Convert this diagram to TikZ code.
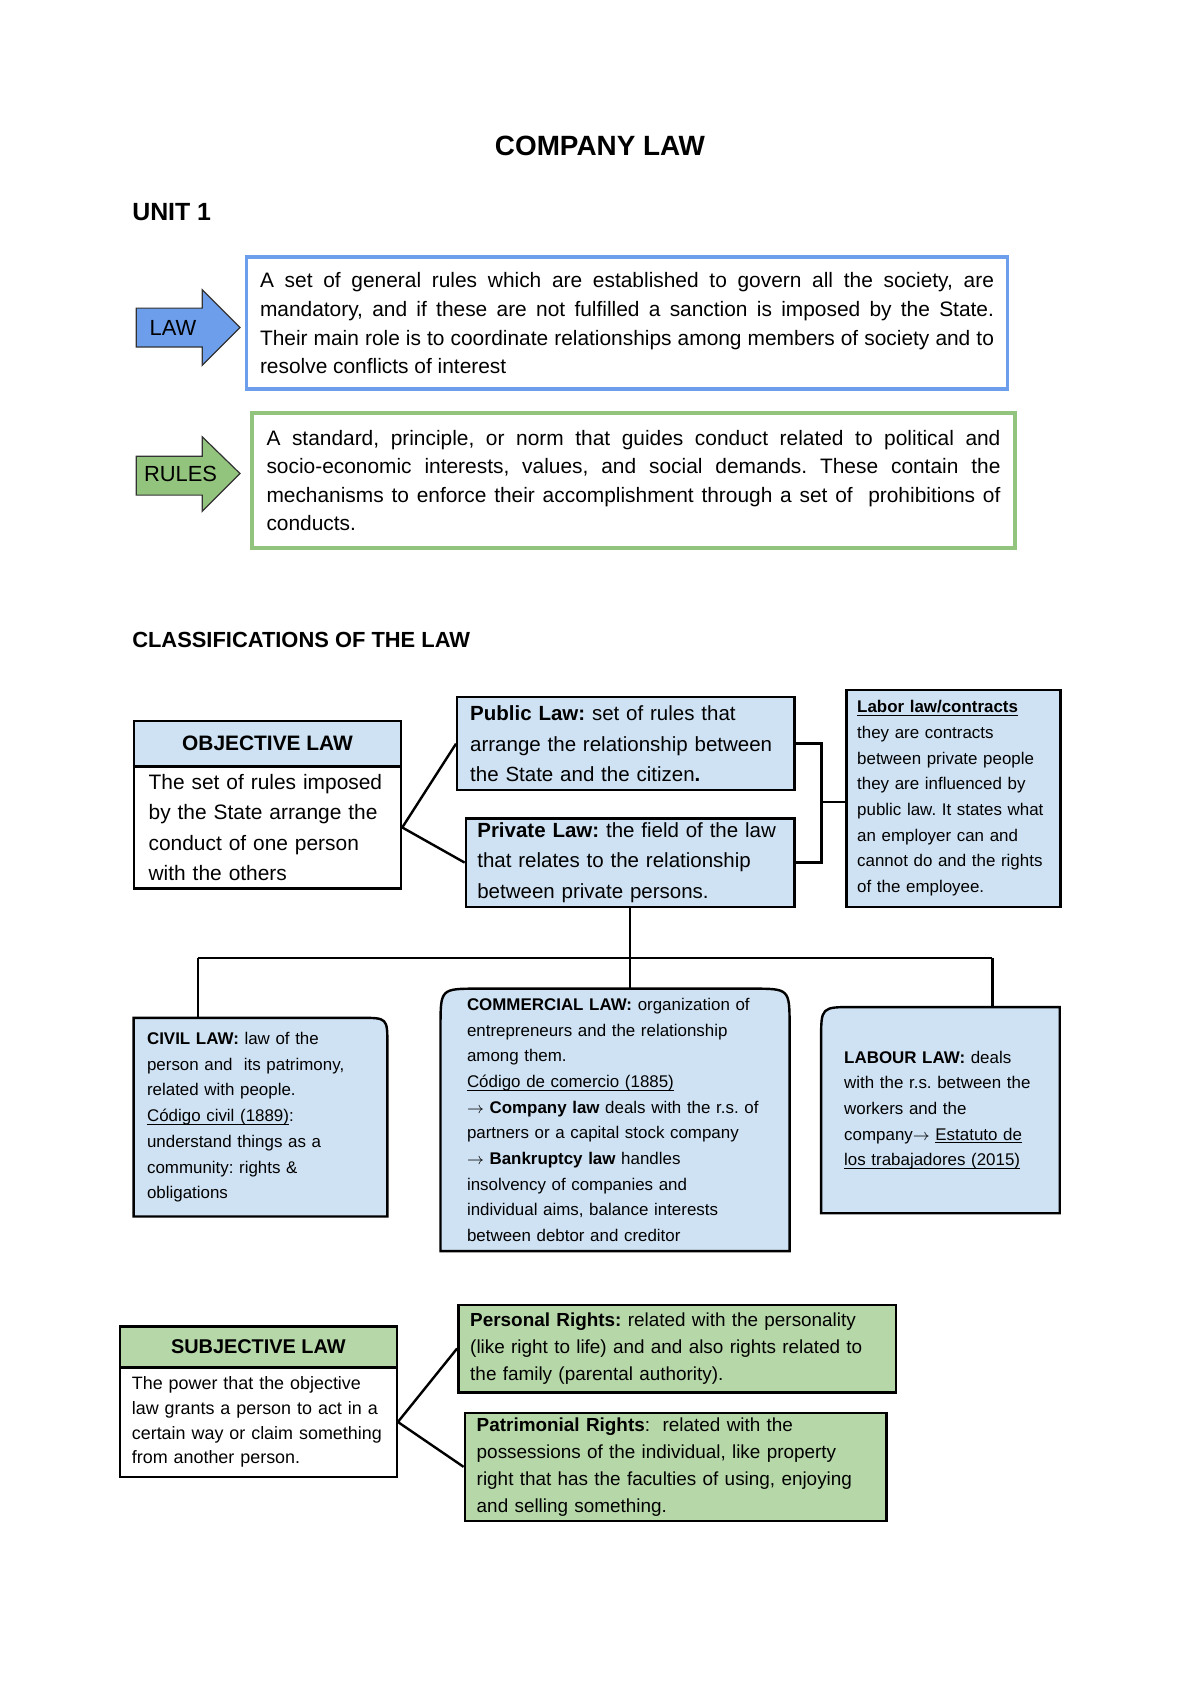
\documentclass[tikz,border=0pt]{standalone}
\usepackage{fontspec}
\setmainfont{Liberation Sans}
\usepackage{tikz}
\usetikzlibrary{
    positioning,
    backgrounds,
    calc
}
\definecolor{lawblue}{HTML}{6D9EEB}
\definecolor{rulegreen}{HTML}{93C47D}
\definecolor{paleblue}{HTML}{CFE2F3}
\definecolor{palegreen}{HTML}{B6D7A8}
\newcommand{\uln}[1]{\leavevmode\setbox0\hbox{#1}\rlap{\rule[-1.5pt]{\wd0}{0.45pt}}\box0}
\newcommand{\toarr}{$\rightarrow$}

\begin{document}
\frenchspacing
\begin{tikzpicture}[x=0.019091cm, y=-0.019091cm, scale=0.991,
    every node/.append style={transform shape},
    defbox/.style={draw=#1, line width=1.8pt, inner ysep=0pt, align=justify,
        text width=12.96cm, font=\fontsize{10.5}{14.4}\selectfont},
    tagarrow/.style={fill=#1, draw=black!80, line width=0.6pt},
    hdr/.style={draw, line width=1.2pt, fill=#1, inner sep=0pt},
    cell/.style={draw, line width=1.2pt, inner ysep=0pt, align=left},
    lowbox/.style={inner ysep=0pt, align=left, font=\fontsize{8.5}{12.9}\selectfont},
    lowline/.style={fill=paleblue, draw, line width=1.2pt},
    conn/.style={line width=1.2pt}
]
\useasboundingbox (0,0) rectangle (1110,1567);

\node[font=\bfseries\fontsize{14}{16}\selectfont] (title) at (555,135) {COMPANY LAW};
\node[anchor=west, inner sep=0pt, font=\bfseries\fontsize{12.5}{15}\selectfont] (unit) at (122,196) {UNIT 1};

% law and rules
\draw[tagarrow=lawblue] (126,285) -- (187,285) -- (187,268) -- (222,303) -- (187,338) -- (187,321) -- (126,321) -- cycle;
\node[font=\fontsize{11}{13}\selectfont] (lawtag) at (160,303) {LAW};
\node[defbox=lawblue, minimum height=2.33cm, inner xsep=0.24cm] (lawdef) at (580,299)
    {A set of general rules which are established to govern all the society, are\linebreak
     mandatory, and if these are not fulfilled a sanction is imposed by the State.\linebreak
     Their main role is to coordinate relationships among members of society and to\linebreak
     resolve conflicts of interest\par\vspace{8pt}};

\draw[tagarrow=rulegreen] (126,422) -- (187,422) -- (187,404) -- (222,438) -- (187,473) -- (187,458) -- (126,458) -- cycle;
\node[font=\fontsize{11}{13}\selectfont] (ruletag) at (167,438) {RULES};
\node[defbox=rulegreen, minimum height=2.39cm, inner xsep=0.26cm] (ruledef) at (586,444.5)
    {A standard, principle, or norm that guides conduct related to political and\linebreak
     socio-economic interests, values, and social demands. These contain the\linebreak
     mechanisms to enforce their accomplishment through a set of\ \ prohibitions of\linebreak
     conducts.\par\vspace{5pt}};

\node[anchor=west, inner sep=0pt, font=\bfseries\fontsize{11}{13}\selectfont] (classif) at (122,592) {CLASSIFICATIONS OF THE LAW};

% objective law
\node[hdr=paleblue, minimum width=4.716cm, minimum height=0.80cm,
    font=\bfseries\fontsize{10.5}{13}\selectfont] (objhead) at (247.5,688) {OBJECTIVE LAW};
\node[cell, text width=4.2cm, inner xsep=0.258cm, minimum height=2.157cm,
    font=\fontsize{10.5}{15.2}\selectfont] (objbody) at (247.5,765.5)
    {The set of rules imposed\\ by the State arrange the\\ conduct of one person\\ with the others};

\node[cell, fill=paleblue, text width=5.5cm, inner xsep=0.228cm, minimum height=1.642cm,
    font=\fontsize{10.3}{15.2}\selectfont] (public) at (579,688)
    {\textbf{Public Law:} set of rules that\\ arrange the relationship between\\ the State and the citizen\textbf{.}};
\node[cell, fill=paleblue, text width=5.4cm, inner xsep=0.202cm, minimum height=1.565cm,
    font=\fontsize{10.3}{15.2}\selectfont] (private) at (583,798)
    {\textbf{Private Law:} the field of the law\\ that relates to the relationship\\ between private persons.};
\node[cell, fill=paleblue, text width=3.4cm, inner xsep=0.19cm, minimum height=3.837cm,
    font=\fontsize{8.5}{12.9}\selectfont] (labor) at (882,738.5)
    {\textbf{\uln{Labor law/contracts}}\\ they are contracts\\ between private people\\
     they are influenced by\\ public law. It states what\\ an employer can and\\
     cannot do and the rights\\ of the employee.};

\draw[conn] (public.west) -- (objbody.east) -- (private.west);
\coordinate (brk) at (760,742);
\draw[conn] (public.east) -| (brk) |- (private.east);
\draw[conn] (brk) -- (brk -| labor.west);

% branches of private law
\node[lowbox, text width=4.007cm, inner xsep=0.23cm, minimum width=4.467cm, minimum height=3.494cm] (civil) at (241,1033.5)
    {\textbf{CIVIL LAW:} law of the\\ person and\ \ its patrimony,\\ related with people.\\
     \uln{Código civil (1889)}:\\ understand things as a\\ community: rights \&\\ obligations};
\node[lowbox, text width=5.23cm, inner xsep=0.46cm, minimum width=6.147cm, minimum height=4.62cm] (commercial) at (569,1036)
    {\textbf{COMMERCIAL LAW:} organization of\\ entrepreneurs and the relationship\\ among them.\\
     \uln{Código de comercio (1885)}\\ \toarr\ \textbf{Company law} deals with the r.s. of\\
     partners or a capital stock company\\ \toarr\ \textbf{Bankruptcy law} handles\\
     insolvency of companies and\\ individual aims, balance interests\\ between debtor and creditor\par\vspace{-6pt}};
\node[lowbox, text width=3.4cm, inner xsep=0.4cm, minimum width=4.2cm, minimum height=3.627cm] (labour) at (870,1027)
    {\textbf{LABOUR LAW:} deals\\ with the r.s. between the\\ workers and the\\
     company\toarr\ \uln{Estatuto de}\\ \uln{los trabajadores (2015)}};

\begin{scope}[on background layer]
    \draw[lowline] (civil.south west) -- (civil.north west) -- ($(civil.north east)+(-25,0)$)
        .. controls (civil.north east) .. ($(civil.north east)+(0,25)$) -- (civil.south east) -- cycle;
    \draw[lowline] (commercial.south west) -- ($(commercial.north west)+(0,35)$)
        .. controls (commercial.north west) .. ($(commercial.north west)+(35,0)$)
        -- ($(commercial.north east)+(-35,0)$)
        .. controls (commercial.north east) .. ($(commercial.north east)+(0,35)$)
        -- (commercial.south east) -- cycle;
    \draw[lowline] (labour.south west) -- ($(labour.north west)+(0,30)$)
        .. controls (labour.north west) .. ($(labour.north west)+(30,0)$)
        -- (labour.north east) -- (labour.south east) -- cycle;
\end{scope}

\coordinate (busl) at (183,886);
\coordinate (busr) at (918,886);
\draw[conn] (busl) -- (busr);
\draw[conn] (private.south) -- (private.south |- commercial.north);
\draw[conn] (busl) -- (busl |- civil.north);
\draw[conn] (busr) -- (busr |- labour.north);

% subjective law
\node[hdr=palegreen, minimum width=4.887cm, minimum height=0.725cm,
    font=\bfseries\fontsize{10}{12}\selectfont] (subjhead) at (239,1246) {SUBJECTIVE LAW};
\node[cell, text width=4.467cm, inner xsep=0.21cm, minimum height=1.928cm,
    font=\fontsize{9}{12.45}\selectfont] (subjbody) at (239,1315.5)
    {The power that the objective\\ law grants a person to act in a\\ certain way or claim something\\ from another person.};

\node[cell, fill=palegreen, text width=7.312cm, inner xsep=0.21cm, minimum height=1.546cm,
    font=\fontsize{9.5}{13.5}\selectfont] (personal) at (626.5,1247.5)
    {\textbf{Personal Rights:} related with the personality\\ (like right to life) and and also rights related to\\ the family (parental authority).};
\node[cell, fill=palegreen, text width=7.025cm, inner xsep=0.21cm, minimum height=1.909cm,
    font=\fontsize{9.5}{13.5}\selectfont] (patrimonial) at (625,1357)
    {\textbf{Patrimonial Rights}:\ \ related with the\\ possessions of the individual, like property\\
     right that has the faculties of using, enjoying\\ and selling something.};

\draw[conn] (personal.west) -- (subjbody.east) -- (patrimonial.west);
\end{tikzpicture}
\end{document}
